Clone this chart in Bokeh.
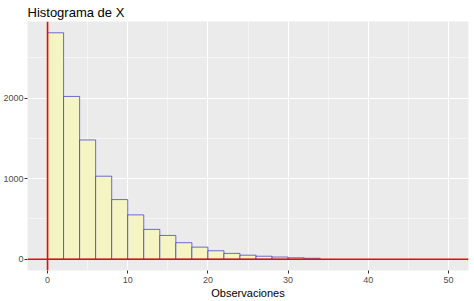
from bokeh.plotting import figure
from bokeh.models import FixedTicker, Span, Range1d
from bokeh.embed import file_html
from bokeh.resources import INLINE

# Histogram bins (width 2) and counts
bin_left = [0, 2, 4, 6, 8, 10, 12, 14, 16, 18, 20, 22, 24, 26, 28, 30, 32]
bin_right = [2, 4, 6, 8, 10, 12, 14, 16, 18, 20, 22, 24, 26, 28, 30, 32, 34]
counts = [2810, 2020, 1480, 1030, 740, 550, 370, 295, 205, 150, 105, 72, 50, 37, 27, 18, 12]
x_ticks = [0, 10, 20, 30, 40, 50]
x_minor = [5, 15, 25, 35, 45]
y_ticks = [0, 1000, 2000]
y_minor = [500, 1500, 2500]

FONT = "Liberation Sans"

p = figure(width=474, height=301, output_backend="svg", toolbar_location=None,
           title="Histograma de X",
           x_range=Range1d(-2.5, 52.5), y_range=Range1d(-140, 2950),
           min_border_left=0, min_border_right=6, min_border_top=7, min_border_bottom=0)

p.title.text_font = FONT
p.title.text_font_size = "13px"
p.title.text_font_style = "normal"
p.title.text_color = "black"
p.title.offset = 0
p.title.standoff = 4

p.background_fill_color = "#EBEBEB"
p.border_fill_color = "white"
p.outline_line_color = None

p.xaxis.ticker = FixedTicker(ticks=x_ticks, minor_ticks=x_minor)
p.yaxis.ticker = FixedTicker(ticks=y_ticks, minor_ticks=y_minor)
for ax in (p.xaxis, p.yaxis):
    ax.axis_line_color = None
    ax.major_tick_line_color = "#333333"
    ax.major_tick_in = 0
    ax.major_tick_out = 3
    ax.minor_tick_line_color = None
    ax.major_label_text_font = FONT
    ax.major_label_text_font_size = "9px"
    ax.major_label_text_color = "#4D4D4D"
    ax.major_label_standoff = 2
p.yaxis.major_label_standoff = 0

p.xaxis.axis_label = "Observaciones"
p.xaxis.axis_label_text_font = FONT
p.xaxis.axis_label_text_font_size = "11px"
p.xaxis.axis_label_text_font_style = "normal"
p.xaxis.axis_label_text_color = "black"
p.xaxis.axis_label_standoff = 1

for g in (p.xgrid, p.ygrid):
    g.grid_line_color = "white"
    g.grid_line_width = 1.1
    g.minor_grid_line_color = "white"
    g.minor_grid_line_width = 0.5

p.quad(left=bin_left, right=bin_right, top=counts, bottom=0,
       fill_color="#F5F5C4", fill_alpha=1.0, line_color="#3333CC", line_alpha=0.7, line_width=1)

p.add_layout(Span(location=0, dimension="height", line_color="red", line_width=1.6))
p.add_layout(Span(location=0, dimension="width", line_color="red", line_width=1.6))

open("out.html", "w").write(file_html(p, INLINE))
